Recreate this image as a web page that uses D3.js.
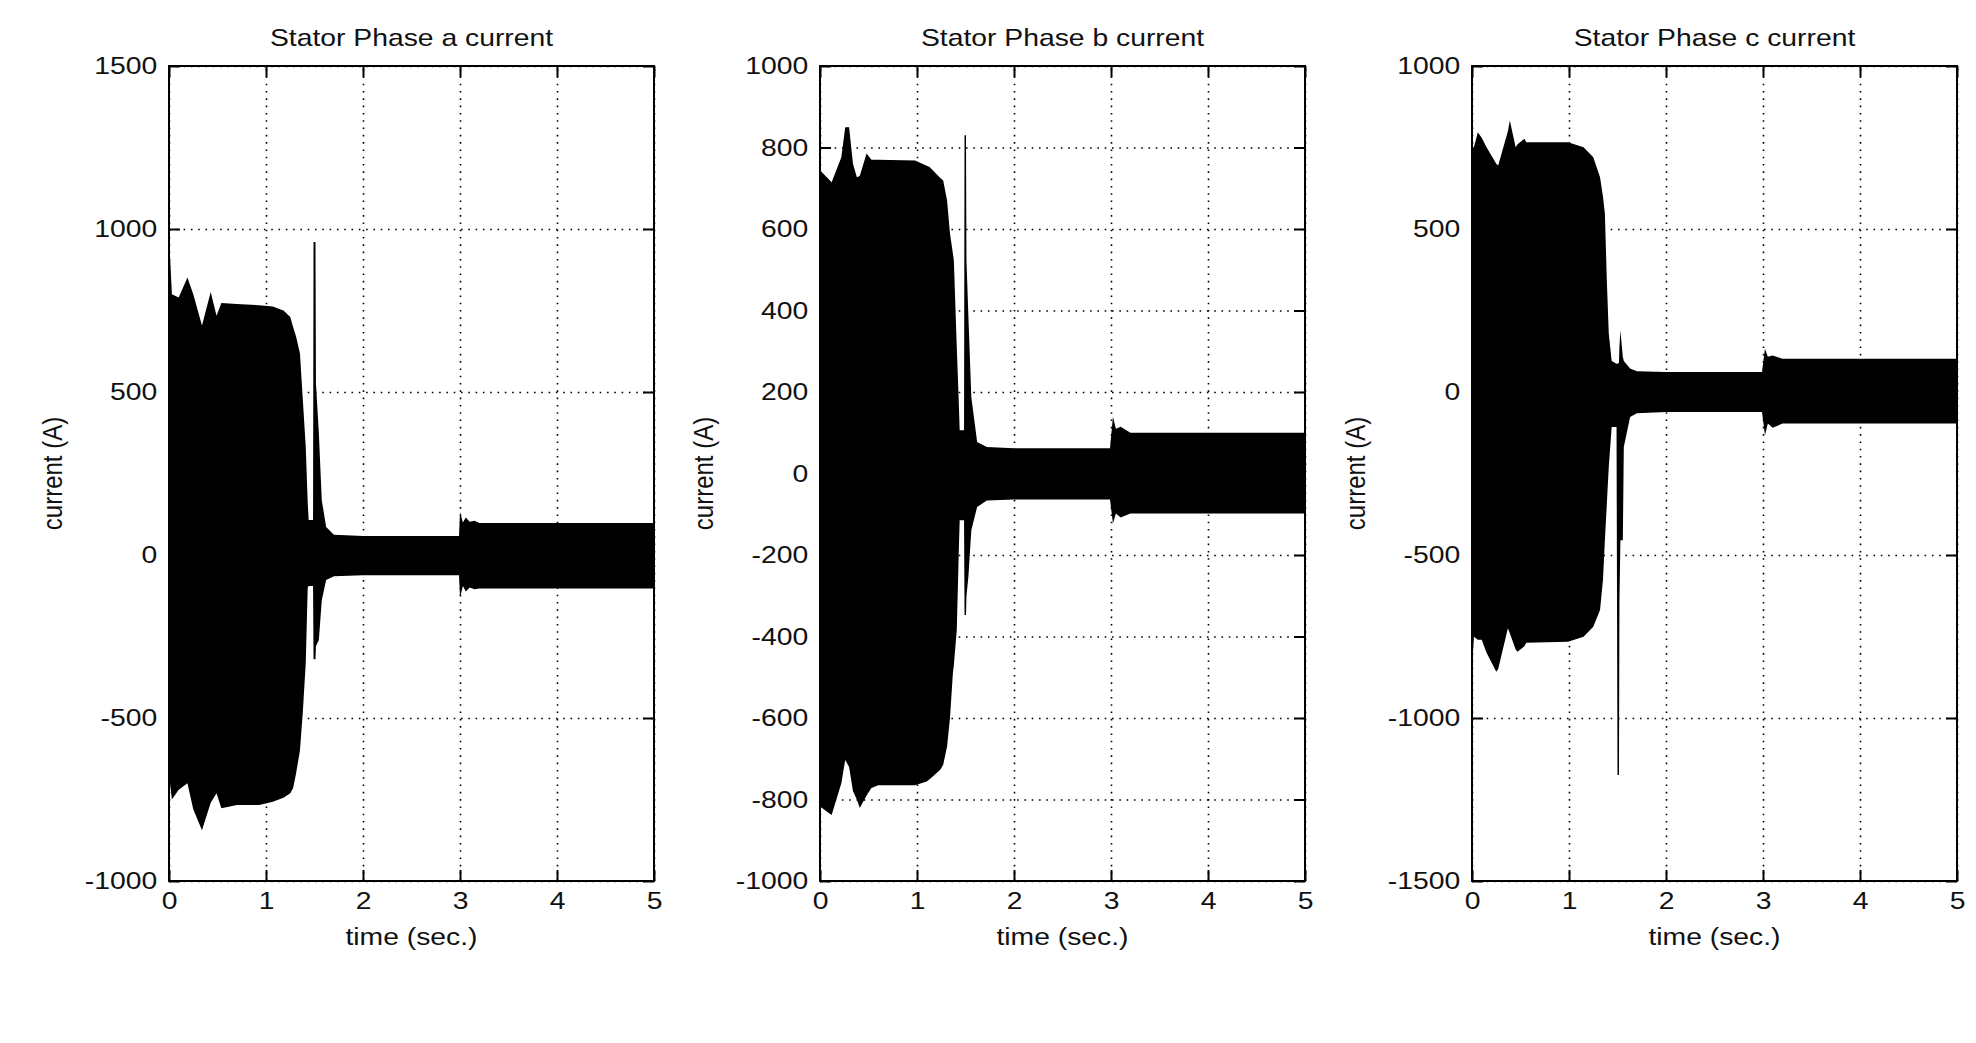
<!DOCTYPE html>
<html>
<head>
<meta charset="utf-8">
<script src="https://cdn.jsdelivr.net/npm/d3@7"></script>
<style>
  body { margin: 0; background: #fff; }
  svg text { font-family: "Liberation Sans", Arial, sans-serif; fill: #111; }
</style>
</head>
<body>
<svg id="chart" width="1976" height="1043"></svg>
<script>
// envelope of each phase current: time (s), upper and lower bound (A)
const timeA = [0, 0.01, 0.03, 0.1, 0.19, 0.25, 0.34, 0.43, 0.49, 0.54, 0.7, 0.93, 1.07, 1.18, 1.25, 1.28, 1.31, 1.35, 1.38, 1.41, 1.43, 1.44, 1.485, 1.49, 1.51, 1.515, 1.545, 1.575, 1.62, 1.7, 2.0, 2.99, 3.0, 3.03, 3.06, 3.1, 3.15, 3.2, 5];
const upperA = [700, 920, 800, 790, 851, 800, 704, 807, 734, 773, 770, 766, 762, 750, 730, 699, 670, 618, 475, 330, 160, 107, 107, 960, 960, 526, 373, 168, 86, 62, 58, 58, 132, 100, 115, 102, 105, 98, 98];
const lowerA = [-695, -700, -750, -720, -700, -780, -844, -760, -731, -777, -767, -767, -757, -745, -731, -715, -670, -600, -480, -330, -100, -95, -95, -320, -320, -280, -261, -139, -77, -65, -62, -62, -131, -95, -112, -100, -105, -103, -103];

const timeB = [0, 0.12, 0.22, 0.26, 0.30, 0.34, 0.38, 0.41, 0.48, 0.53, 0.6, 0.98, 1.1, 1.13, 1.24, 1.27, 1.31, 1.34, 1.37, 1.38, 1.41, 1.43, 1.44, 1.485, 1.49, 1.505, 1.51, 1.53, 1.56, 1.62, 1.72, 2.0, 2.99, 3.02, 3.05, 3.1, 3.2, 5];
const upperB = [744, 715, 776, 850, 850, 760, 727, 730, 785, 770, 770, 768, 755, 752, 725, 719, 670, 589, 540, 523, 310, 180, 106, 106, 830, 830, 523, 384, 188, 77, 65, 62, 62, 139, 110, 115, 100, 100];
const lowerB = [-817, -838, -760, -703, -720, -780, -800, -821, -790, -772, -765, -765, -756, -750, -727, -715, -670, -600, -490, -470, -384, -200, -115, -115, -347, -347, -300, -253, -139, -82, -66, -64, -64, -123, -98, -108, -98, -98];

const timeC = [0, 0.02, 0.06, 0.1, 0.15, 0.25, 0.27, 0.37, 0.39, 0.45, 0.47, 0.54, 0.56, 0.99, 1.15, 1.25, 1.32, 1.35, 1.37, 1.39, 1.41, 1.44, 1.49, 1.50, 1.515, 1.52, 1.53, 1.555, 1.565, 1.63, 1.7, 2.0, 2.99, 3.02, 3.05, 3.1, 3.2, 5];
const upperC = [751, 751, 797, 780, 751, 700, 695, 800, 833, 751, 760, 777, 766, 766, 751, 720, 659, 600, 547, 342, 179, 95, 87, 87, 90, 140, 189, 107, 95, 72, 64, 61, 61, 133, 108, 112, 102, 102];
const lowerC = [-843, -751, -760, -760, -800, -858, -850, -725, -740, -790, -797, -780, -769, -766, -751, -720, -669, -577, -455, -343, -230, -107, -107, -1175, -1175, -640, -455, -455, -169, -77, -65, -61, -61, -133, -97, -110, -97, -97];

const titles = ["Stator Phase a current", "Stator Phase b current", "Stator Phase c current"];
const xTicks = [0, 1, 2, 3, 4, 5];
const yTicksA = [-1000, -500, 0, 500, 1000, 1500];
const yTicksB = [-1000, -800, -600, -400, -200, 0, 200, 400, 600, 800, 1000];
const yTicksC = [-1500, -1000, -500, 0, 500, 1000];

const panels = [
  { title: titles[0], t: timeA, up: upperA, lo: lowerA, yTicks: yTicksA },
  { title: titles[1], t: timeB, up: upperB, lo: lowerB, yTicks: yTicksB },
  { title: titles[2], t: timeC, up: upperC, lo: lowerC, yTicks: yTicksC },
];

const lefts = [169, 820, 1472];
const plotTop = 66, w = 485, h = 815;
const tick = 11;
const stretch = "scale(1.18,1)"; // the source glyphs are wide

const svg = d3.select("#chart");
svg.append("rect").attr("width", 1976).attr("height", 1043).attr("fill", "#fff");

panels.forEach((p, k) => {
  const g = svg.append("g").attr("transform", `translate(${lefts[k]},${plotTop})`);

  const x = d3.scaleLinear().domain([0, 5]).range([0, w]);
  const y = d3.scaleLinear().domain(d3.extent(p.yTicks)).range([h, 0]);

  // dotted grid
  const grid = g.append("g");
  grid.append("g")
    .call(d3.axisLeft(y).tickValues(p.yTicks).tickSize(-w).tickFormat(""));
  grid.append("g")
    .attr("transform", `translate(0,${h})`)
    .call(d3.axisBottom(x).tickValues(xTicks).tickSize(-h).tickFormat(""));
  grid.selectAll(".domain").remove();
  grid.selectAll("line")
    .attr("stroke", "#000")
    .attr("stroke-width", 1.6)
    .attr("stroke-dasharray", "1.6,5.7");

  // current envelope
  const idx = d3.range(p.t.length);
  const area = d3.area()
    .x((i) => x(p.t[i]))
    .y0((i) => y(p.lo[i]))
    .y1((i) => y(p.up[i]));
  g.append("path").datum(idx).attr("d", area).attr("fill", "#000");

  // axes with inward ticks on all four sides
  const axes = g.append("g");
  const left = axes.append("g")
    .call(d3.axisLeft(y).tickValues(p.yTicks).tickSize(-tick).tickPadding(10).tickFormat((d) => String(d)));
  const bottom = axes.append("g")
    .attr("transform", `translate(0,${h})`)
    .call(d3.axisBottom(x).tickValues(xTicks).tickSize(-tick).tickPadding(11).tickFormat((d) => String(d)));
  axes.append("g")
    .attr("transform", `translate(${w},0)`)
    .call(d3.axisRight(y).tickValues(p.yTicks).tickSize(-tick).tickFormat(""));
  axes.append("g")
    .call(d3.axisTop(x).tickValues(xTicks).tickSize(-tick).tickFormat(""));

  axes.selectAll(".domain").remove();
  axes.selectAll(".tick line").attr("stroke", "#000").attr("stroke-width", 2);
  [left, bottom].forEach((a) =>
    a.selectAll("text")
      .attr("font-size", 24)
      .attr("font-family", "Liberation Sans, Arial, sans-serif")
      .attr("fill", "#111")
      .attr("transform", stretch)
  );

  g.append("rect")
    .attr("width", w).attr("height", h)
    .attr("fill", "none").attr("stroke", "#000").attr("stroke-width", 2);

  g.append("text")
    .attr("transform", `translate(${w / 2},${-20}) ${stretch}`)
    .attr("text-anchor", "middle")
    .attr("font-size", 24)
    .text(p.title);

  g.append("text")
    .attr("transform", `translate(${w / 2},${h + 64}) ${stretch}`)
    .attr("text-anchor", "middle")
    .attr("font-size", 24)
    .text("time (sec.)");

  g.append("text")
    .attr("transform", `translate(-107,${h / 2}) rotate(-90) scale(1,1.18)`)
    .attr("text-anchor", "middle")
    .attr("font-size", 24)
    .text("current (A)");
});
</script>
</body>
</html>
